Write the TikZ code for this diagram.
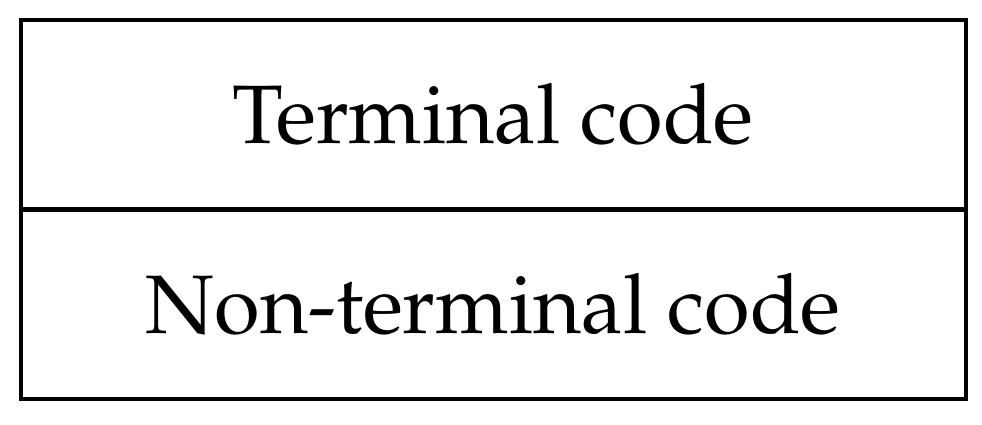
\documentclass[tikz,border=0pt]{standalone}
\usepackage[T1]{fontenc}
\usepackage{mathpazo}
\begin{document}
\begin{tikzpicture}[x=1pt,y=-1pt,
  cell/.style={draw=black,line width=4.5pt,minimum width=945pt,minimum height=189.5pt,inner sep=0pt,anchor=north west,
    font=\fontsize{83}{90}\selectfont}]
\useasboundingbox (0,0) rectangle (982,424);
\node[cell] (term) at (18.5,17.5) {Terminal code};
\node[cell] (nonterm) at (18.5,207) {Non-terminal code};
\end{tikzpicture}
\end{document}
